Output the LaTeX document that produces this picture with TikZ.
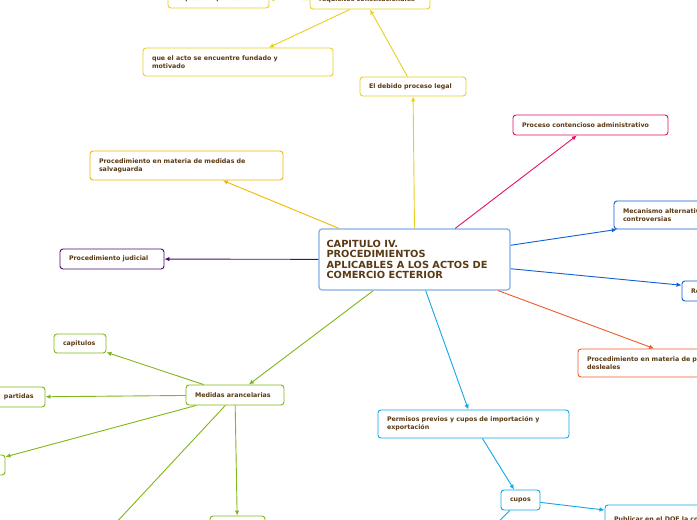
\documentclass[tikz,border=0pt]{standalone}
\usepackage{fontspec}
\setmainfont{DejaVu Sans}
\usetikzlibrary{arrows.meta}
\definecolor{txt}{HTML}{5A3A14}
\definecolor{cyel}{HTML}{E8D020}
\definecolor{cgold}{HTML}{F5B800}
\definecolor{cpink}{HTML}{E8106A}
\definecolor{cpur}{HTML}{4B0A6E}
\definecolor{cblue}{HTML}{1060D0}
\definecolor{corg}{HTML}{F05A28}
\definecolor{cgrn}{HTML}{80B818}
\definecolor{ccyan}{HTML}{10A8E8}
\definecolor{ccen}{HTML}{80B0E8}
\tikzset{
  box/.style={draw=#1, line width=0.9pt, rounded corners=3pt, fill=white, text=txt,
    font=\fontsize{6.3}{8}\selectfont\bfseries, align=left, inner sep=0pt, anchor=center},
  con/.style={draw=#1, line width=0.9pt, -{Latex[length=5pt,width=4.5pt]}}
}
\newcommand{\bx}[6]{\node[box=#1, minimum width=#4pt, minimum height=#5pt] (#2) at #3 {\parbox{\dimexpr#4pt-18pt}{\raggedright #6}};}
\begin{document}
\begin{tikzpicture}[x=1pt,y=-1pt]
\useasboundingbox (0,0) rectangle (697,520);
\clip (0,0) rectangle (697,520);
\fill[white] (0,0) rectangle (697,520);
% nodes
\bx{cyel}{esc}{(218.5,-1)}{101}{18}{expresado por escrito}
\bx{cyel}{req}{(370,0)}{120}{18}{requisitos constitucionales}
\bx{cyel}{que}{(238,62)}{190}{28}{que el acto se encuentre fundado y\\motivado}
\bx{cyel}{deb}{(413,86.5)}{106}{19}{El debido proceso legal}
\bx{cpink}{pca}{(590.5,125)}{155}{20}{Proceso contencioso administrativo}
\bx{cgold}{salv}{(186.5,165.5)}{193}{29}{Procedimiento en materia de medidas de\\salvaguarda}
\node[draw=ccen, line width=1.2pt, rounded corners=3pt, fill=white, text=txt,
  font=\fontsize{9.8}{10.6}\selectfont\bfseries, align=left, minimum width=191pt,
  minimum height=61pt, inner sep=0pt] (cen) at (414.5,259.5)
  {\parbox{176pt}{\raggedright CAPITULO IV.\\PROCEDIMIENTOS\\APLICABLES A LOS ACTOS DE\\COMERCIO ECTERIOR}};
\bx{cpur}{pj}{(112,259)}{104}{20}{Procedimiento judicial}
\bx{cblue}{mec}{(714,215)}{200}{28}{Mecanismo alternativo de solución de\\controversias}
\bx{cblue}{re}{(742,291)}{120}{20}{Recurso de revocación}
\bx{corg}{desl}{(693,363)}{230}{28}{Procedimiento en materia de prácticas\\desleales}
\bx{cgrn}{cap}{(80,343.5)}{52}{19}{capitulos}
\bx{cgrn}{med}{(235,395)}{98}{20}{Medidas arancelarias}
\bx{cgrn}{par}{(20,397)}{50}{20}{partidas}
\bx{cgrn}{sub}{(-25,465)}{60}{20}{subpartidas}
\bx{cgrn}{fra}{(237.5,536)}{55}{40}{fracciones}
\bx{ccyan}{perm}{(473.5,424)}{191}{28}{Permisos previos y cupos de importación y\\exportación}
\bx{ccyan}{cup}{(520.5,500)}{39}{20}{cupos}
\bx{ccyan}{pub}{(680,519)}{150}{28}{Publicar en el DOF la convocatoria}
\coordinate (gl) at (100,540);
\coordinate (cl) at (485,535);
% connectors
\draw[con=cyel] (cen.north) -- (deb);
\draw[con=cyel] (deb) -- (req.south);
\draw[con=cyel] (req) -- (que);
\draw[con=cyel] (req) -- (esc);
\draw[con=cpink] (cen) -- (pca);
\draw[con=cgold] (cen) -- (salv);
\draw[con=cpur] (cen) -- (pj);
\draw[con=cblue] (cen) -- (mec);
\draw[con=cblue] (cen) -- (re);
\draw[con=corg] (cen) -- (desl);
\draw[con=cgrn] (cen) -- (med);
\draw[con=ccyan] (cen) -- (perm);
\draw[con=cgrn] (med) -- (cap);
\draw[con=cgrn] (med) -- (par);
\draw[con=cgrn] (med) -- (sub);
\draw[con=cgrn] (med) -- (fra);
\draw[draw=cgrn, line width=0.9pt] (med) -- (gl);
\draw[con=ccyan] (perm) -- (cup);
\draw[con=ccyan] (cup) -- (pub);
\draw[draw=ccyan, line width=0.9pt] (cup) -- (cl);
\end{tikzpicture}
\end{document}
